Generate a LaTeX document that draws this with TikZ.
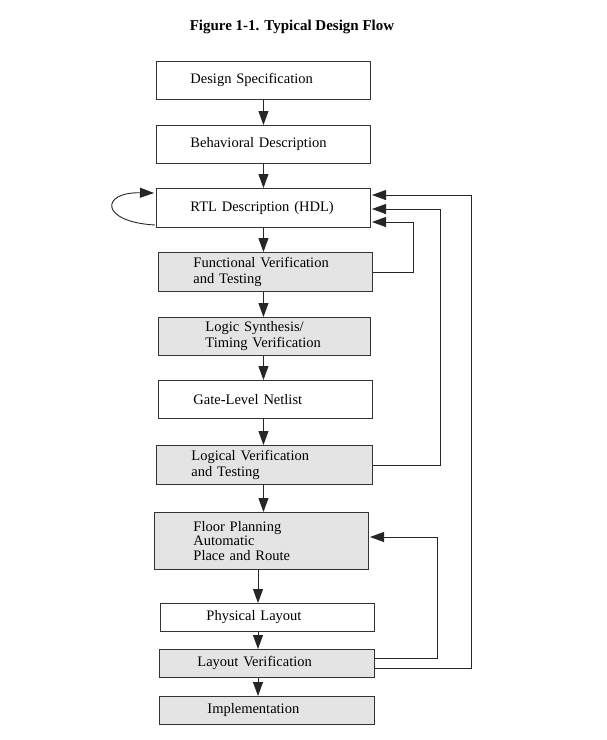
\documentclass[tikz,border=0pt]{standalone}
\usepackage{fontspec}
\setmainfont{Liberation Serif}
\usetikzlibrary{arrows.meta}
\definecolor{boxgray}{HTML}{E4E4E4}
\begin{document}
\begin{tikzpicture}[x=1pt,y=-1pt,
  box/.style={draw=black!80,line width=0.9pt,anchor=north west,align=left,inner ysep=0pt,
    font=\fontsize{14.5}{16}\selectfont},
  gbox/.style={box,fill=boxgray},
  arr/.style={-{Triangle[length=14pt,width=10pt]},line width=0.9pt,black!85},
  ln/.style={line width=0.9pt,black!85}]
\useasboundingbox (0,0) rectangle (606,740);
\node[font=\bfseries\fontsize{15}{17}\selectfont] (title) at (292,27) {Figure 1-1. Typical Design Flow};
\node[box,inner xsep=34pt,text width=146pt,minimum height=38pt] (ds) at (156,61) {Design Specification};
\node[box,inner xsep=34pt,text width=146pt,minimum height=38pt] (bd) at (156,125) {Behavioral Description};
\node[box,inner xsep=34pt,text width=146pt,minimum height=39pt] (rtl) at (156,188) {RTL Description (HDL)};
\node[gbox,inner xsep=35pt,text width=144pt,minimum height=39pt] (fv) at (158,252) {Functional Verification\\and Testing};
\node[gbox,inner xsep=47pt,text width=118pt,minimum height=38pt] (ls) at (158,317) {Logic Synthesis/\\Timing Verification};
\node[box,inner xsep=35pt,text width=144pt,minimum height=38pt] (gl) at (158,380) {Gate-Level Netlist};
\node[gbox,inner xsep=35pt,text width=146pt,minimum height=39pt] (lv) at (156,445) {Logical Verification\\and Testing};
\node[gbox,inner xsep=39pt,text width=136pt,minimum height=57pt,font=\fontsize{14.5}{14.5}\selectfont] (fp) at (154,512) {Floor Planning\\Automatic\\Place and Route};
\node[box,inner xsep=46pt,text width=122pt,minimum height=28pt] (pl) at (160,603) {Physical Layout};
\node[gbox,inner xsep=38pt,text width=139pt,minimum height=28pt] (lay) at (159,649) {Layout Verification};
\node[gbox,inner xsep=48pt,text width=119pt,minimum height=28pt] (imp) at (159,696) {Implementation};
% vertical flow
\draw[arr] (ds.south) -- (bd.north);
\draw[arr] (bd.south) -- (rtl.north);
\draw[arr] (rtl.south) -- (rtl.south |- fv.north);
\draw[arr] (fv.south -| rtl.south) -- (rtl.south |- ls.north);
\draw[arr] (ls.south -| rtl.south) -- (rtl.south |- gl.north);
\draw[arr] (gl.south -| rtl.south) -- (rtl.south |- lv.north);
\draw[arr] (lv.south -| rtl.south) -- (rtl.south |- fp.north);
\draw[arr] (fp.south -| 258,0) -- (258,0 |- pl.north);
\draw[arr] (pl.south -| 258,0) -- (258,0 |- lay.north);
\draw[arr] (lay.south -| 258,0) -- (258,0 |- imp.north);
% feedback
\coordinate (r1) at (372,222);
\coordinate (r2) at (372,209);
\coordinate (r3) at (372,195);
\draw[arr] (fv.east) -| (413,222) -- (r1);
\draw[arr] (lv.east) -| (440,209) -- (r2);
\draw[arr] (lay.east |- 0,668) -| (471,195) -- (r3);
\coordinate (f1) at (370,537);
\draw[arr] (lay.east |- 0,658) -| (437,537) -- (f1);
% self loop
\coordinate (sl1) at (155,225);
\coordinate (sl2) at (154,193);
\draw[arr] (sl1) .. controls (100,222) and (100,192) .. (sl2);
\end{tikzpicture}
\end{document}
